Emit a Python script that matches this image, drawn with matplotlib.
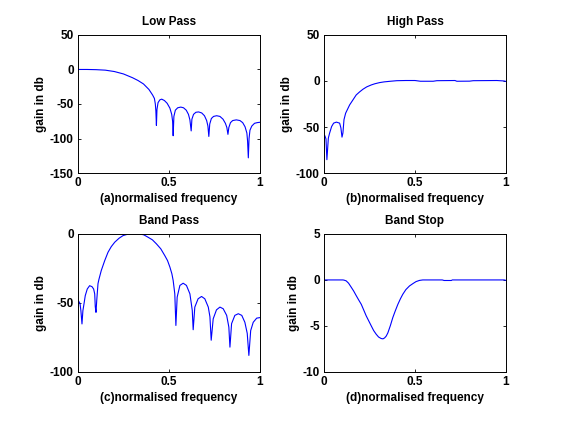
import numpy as np
import matplotlib
matplotlib.use("Agg")
import matplotlib.pyplot as plt

plt.rcParams["font.family"] = ["Liberation Sans", "DejaVu Sans"]
plt.rcParams["font.weight"] = "bold"
plt.rcParams["font.size"] = 8.5
plt.rcParams["axes.unicode_minus"] = False

# values (normalised frequency, gain in db)
lp_f = [0.0, 0.05, 0.10, 0.15, 0.20, 0.25, 0.30, 0.33, 0.36, 0.39, 0.41, 0.42, 0.425, 0.428, 0.431,
        0.434, 0.440, 0.450, 0.460, 0.475, 0.490, 0.505, 0.515, 0.520, 0.523,
        0.527, 0.535, 0.548, 0.565, 0.580, 0.595, 0.607, 0.615, 0.622,
        0.626, 0.635, 0.648, 0.663, 0.680, 0.695, 0.707, 0.714, 0.719,
        0.724, 0.733, 0.745, 0.762, 0.780, 0.797, 0.810, 0.818, 0.824,
        0.829, 0.838, 0.850, 0.870, 0.890, 0.905, 0.918, 0.928, 0.932, 0.936,
        0.940, 0.945, 0.955, 0.970, 0.985, 1.0]
lp_db = [0, 0, -0.3, -1, -3, -6.5, -12, -16, -21, -29, -37, -42, -50, -60, -81,
         -58, -48, -44, -43, -45, -49, -56, -65, -75, -96,
         -68, -59, -55.5, -54.5, -55.5, -59, -65, -73, -89,
         -72, -65, -62, -61.5, -63, -67, -74, -82, -97,
         -79, -71, -68, -67, -68, -72, -78, -84, -94,
         -84, -77, -74, -73, -74, -77, -83, -92, -104, -128,
         -100, -88, -82, -78, -77, -76.5]

hp_f = [0.0, 0.005, 0.011, 0.016, 0.024, 0.031, 0.042, 0.053, 0.068, 0.086, 0.093, 0.099,
        0.104, 0.110, 0.119, 0.141, 0.159, 0.177, 0.195, 0.214, 0.235, 0.26, 0.28, 0.305,
        0.33, 0.36, 0.40, 0.45, 0.50, 0.53, 0.60, 0.62, 0.72, 0.73, 0.80, 0.82, 0.95,
        0.99, 1.0]
hp_db = [-59, -59.5, -63, -85.5, -62, -56.6, -49.5, -45.8, -44.7, -45.8, -51, -61,
         -56.6, -42, -35, -26, -20.6, -15.2, -12, -9, -6.4, -4.3, -3, -1.8,
         -1, -0.4, 0.3, 0.5, 0.5, -0.3, -0.3, 0.3, 0.5, -0.3, -0.2, 0.3, 0.5,
         0, -0.5]

bp_f = [0.0, 0.004, 0.011, 0.016, 0.022, 0.027, 0.033, 0.040, 0.051, 0.064, 0.077, 0.086,
        0.092, 0.095, 0.099, 0.103, 0.110, 0.115, 0.119, 0.128, 0.147, 0.165, 0.183,
        0.202, 0.226, 0.248, 0.266, 0.284, 0.312, 0.34, 0.362, 0.385, 0.409, 0.431,
        0.455, 0.477, 0.492, 0.505, 0.516, 0.523, 0.532, 0.538,
        0.545, 0.56, 0.578, 0.596, 0.615, 0.628, 0.633,
        0.642, 0.66, 0.679, 0.697, 0.716, 0.725, 0.732,
        0.743, 0.761, 0.78, 0.798, 0.817, 0.829, 0.835,
        0.844, 0.862, 0.881, 0.90, 0.917, 0.93, 0.939,
        0.949, 0.963, 0.982, 1.0]
bp_db = [-48, -48.8, -50.3, -55.6, -65.2, -55.6, -50.7, -44.7, -39.9, -37.5, -38.2, -39.9,
         -43.5, -52.7, -56.8, -48.3, -36, -33, -31, -26.5, -19.3, -13.3, -9.2,
         -6, -3.1, -1.2, -0.5, 0, 0, 0, -0.7, -2.4, -4.3, -7.2,
         -10.8, -15.7, -19.3, -24, -28.9, -33.7, -43.4, -66.3,
         -45.8, -37.3, -35.7, -37.3, -43.4, -55.4, -69.4,
         -53, -47, -45.3, -47, -53, -60, -77,
         -61.5, -55, -53, -54.2, -59, -67.5, -82,
         -65, -59, -57.8, -59, -64, -72, -88,
         -70, -64, -61, -60.6]

bs_f = [0.0, 0.05, 0.104, 0.11, 0.122, 0.135, 0.15, 0.163, 0.177, 0.19, 0.205, 0.218,
        0.232, 0.246, 0.26, 0.273, 0.287, 0.30, 0.314, 0.324, 0.333, 0.342, 0.351,
        0.365, 0.378, 0.392, 0.406, 0.42, 0.433, 0.45, 0.47, 0.49, 0.506, 0.525,
        0.543, 0.65, 0.66, 0.70, 0.705, 0.99, 1.0]
bs_db = [0, 0, 0, -0.02, -0.1, -0.35, -0.8, -1.2, -1.7, -2.15, -2.65, -3.25,
         -3.9, -4.45, -5, -5.5, -5.9, -6.2, -6.36, -6.4, -6.3, -6.1, -5.75,
         -4.95, -4.1, -3.35, -2.65, -2.05, -1.56, -1.05, -0.65, -0.38, -0.18, -0.05,
         0, 0, -0.06, -0.06, 0, 0, -0.05]

panels = [
    (lp_f, lp_db, "Low Pass", "(a)normalised frequency", [50, 0, -50, -100, -150]),
    (hp_f, hp_db, "High Pass", "(b)normalised frequency", [50, 0, -50, -100]),
    (bp_f, bp_db, "Band Pass", "(c)normalised frequency", [0, -50, -100]),
    (bs_f, bs_db, "Band Stop", "(d)normalised frequency", [5, 0, -5, -10]),
]

fig = plt.figure(figsize=(5.61, 4.21), dpi=100)
lefts = [0.139, 0.5775, 0.139, 0.5775]
bottoms = [0.589, 0.589, 0.1164, 0.1164]

for i, (f, db, title, xlab, yt) in enumerate(panels):
    ax = fig.add_axes([lefts[i], bottoms[i], 0.3244, 0.328])
    ax.plot(f, db, color="blue", lw=0.8)
    ax.set_xlim(0, 1)
    ax.set_ylim(min(yt), max(yt))
    ax.set_xticks([0, 0.5, 1])
    ax.set_xticklabels(["0", "0.5", "1"])
    ax.set_yticks(yt)
    ax.set_yticklabels([str(v) for v in yt])
    ax.tick_params(direction="in", length=2.5, width=0.6, top=True, right=True, pad=3)
    for s in ax.spines.values():
        s.set_linewidth(0.7)
    ax.set_title(title, fontweight="bold", fontsize=8.5, pad=7)
    ax.set_xlabel(xlab, fontweight="bold", labelpad=3)
    ax.set_ylabel("gain in db", fontweight="bold", labelpad=2)

fig.savefig("out.png", dpi=100)
